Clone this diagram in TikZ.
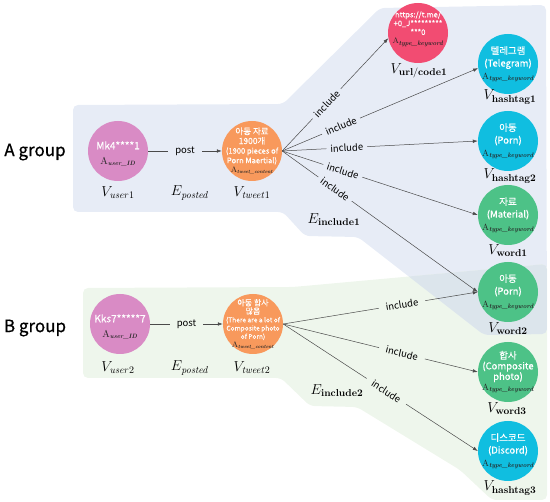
\documentclass[tikz,border=0pt]{standalone}
\usepackage[no-math]{fontspec}
\newfontfamily\kr{Noto Sans CJK KR}
\newfontfamily\krm[FakeBold=0.3]{Noto Sans CJK KR}
\newfontfamily\krb[FakeBold=0.7]{Noto Sans CJK KR}
\usetikzlibrary{arrows.meta}
\definecolor{bgA}{HTML}{E7ECF6}
\definecolor{bgB}{HTML}{EEF6EC}
\definecolor{bgAB}{HTML}{DCE5EC}
\definecolor{cUser}{HTML}{D98BC5}
\definecolor{cTweet}{HTML}{F8995C}
\definecolor{cUrl}{HTML}{F24C72}
\definecolor{cHash}{HTML}{10BEE0}
\definecolor{cWord}{HTML}{4DC287}
\definecolor{cLine}{HTML}{4A4A4A}
\newcommand{\attr}[2][6.4]{{\color{black!85}$\mathrm{A}_{\mbox{\fontsize{#1}{#1}\selectfont\rmfamily\bfseries\itshape #2}}$}}
\newcommand{\bluepath}{(73,105) -- (283,104) -- (380,8) -- (546,5) -- (547,334) -- (484,335) -- (358,237) -- (305,236) -- (283,212) -- (73,212) -- cycle}
\newcommand{\greenpath}{(83,288) -- (293,287) -- (547,264) -- (547,500) -- (492,500) -- (460,470) -- (357,407) -- (310,406) -- (281,378) -- (83,378) -- cycle}
\begin{document}
\begin{tikzpicture}[x=1pt,y=-1pt,
  circ/.style={circle, minimum size=60pt, inner sep=0pt},
  ctext/.style={align=center, text=white, inner sep=0pt, font=\krm\fontsize{8}{10}\selectfont},
  edge/.style={draw=cLine, line width=0.5pt, -{Latex[length=5pt,width=3.5pt]}},
  lbl/.style={font=\kr\fontsize{9.5}{10}\selectfont, text=black, inner xsep=4pt, inner ysep=0pt},
  vlab/.style={font=\fontsize{14.5}{16}\selectfont, inner sep=0pt},
  grp/.style={font=\krb\fontsize{17}{20}\selectfont, inner sep=0pt}]
\useasboundingbox (0,0) rectangle (550,502);
% backgrounds
\fill[bgA, rounded corners=5pt] \bluepath;
\fill[bgB, rounded corners=5pt] \greenpath;
\begin{scope}
  \clip[rounded corners=5pt] \greenpath;
  \fill[bgAB, rounded corners=5pt] \bluepath;
\end{scope}
% group labels
\node[grp] (ga) at (35,152) {A group};
\node[grp] (gb) at (35,328) {B group};
% circles
\node[circ, fill=cUser]  (u1)  at (118,151) {};
\node[circ, fill=cTweet] (t1)  at (252,151) {};
\node[circ, fill=cUrl]   (url) at (418,33) {};
\node[circ, fill=cHash]  (h1)  at (508,64) {};
\node[circ, fill=cHash]  (h2)  at (508,141) {};
\node[circ, fill=cWord]  (w1)  at (508,215) {};
\node[circ, fill=cWord]  (w2)  at (508,292) {};
\node[circ, fill=cWord]  (w3)  at (508,372) {};
\node[circ, fill=cHash]  (h3)  at (508,451) {};
\node[circ, fill=cUser]  (u2)  at (120,324) {};
\node[circ, fill=cTweet] (t2)  at (253,324) {};
% circle texts
\node[ctext, font=\krm\fontsize{10}{15}\selectfont] (tu1) at ([yshift=-3pt]u1.center) {Mk4****1\\\attr[6.2]{user\_ID}};
\node[ctext, font=\krm\fontsize{10}{15}\selectfont] (tu2) at ([yshift=-3pt]u2.center) {Kks7*****7\\\attr[6.2]{user\_ID}};
\node[ctext, font=\krm\fontsize{8.5}{9.6}\selectfont] (tt1) at (t1.center) {아동 자료\\1900개\\{\fontsize{7.6}{9.6}\selectfont(1900 pieces of}\\{\fontsize{7.6}{9.6}\selectfont Porn Maertial)}\\\attr[5]{tweet\_content}};
\node[ctext, font=\krm\fontsize{8}{8.3}\selectfont] (tt2) at (t2.center) {아동 합사\\많음\\{\fontsize{6.6}{8}\selectfont(There are a lot of}\\{\fontsize{6.6}{8}\selectfont Composite photo}\\{\fontsize{6.6}{8}\selectfont of Porn)}\\\attr[5]{tweet\_content}};
\node[ctext, font=\krm\fontsize{7.6}{8.8}\selectfont] (turl) at ([yshift=4pt]url.center) {https://t.me/\\+0\_J*********\\***0\\\attr{type\_keyword}};
\node[ctext, font=\krm\fontsize{9.5}{12.5}\selectfont] (th1) at (h1.center) {텔레그램\\(Telegram)\\\attr{type\_keyword}};
\node[ctext, font=\krm\fontsize{9.5}{12.5}\selectfont] (th2) at (h2.center) {아동\\(Porn)\\\attr{type\_keyword}};
\node[ctext, font=\krm\fontsize{9.5}{12.5}\selectfont] (tw1) at (w1.center) {자료\\(Material)\\\attr{type\_keyword}};
\node[ctext, font=\krm\fontsize{9.5}{12.5}\selectfont] (tw2) at (w2.center) {아동\\(Porn)\\\attr{type\_keyword}};
\node[ctext, font=\krm\fontsize{9.5}{10.5}\selectfont] (tw3) at (w3.center) {합사\\(Composite\\photo)\\\attr{type\_keyword}};
\node[ctext, font=\krm\fontsize{9.5}{12.5}\selectfont] (th3) at (h3.center) {디스코드\\(Discord)\\\attr{type\_keyword}};
% V / E labels
\node[vlab] (lu1) at (118,193) {$V_{\mathit{user}1}$};
\node[vlab] (le1) at (190,193) {$E_{\mathit{posted}}$};
\node[vlab] (lt1) at (252,193) {$V_{\mathit{tweet}1}$};
\node[vlab] (lu2) at (118,368) {$V_{\mathit{user}2}$};
\node[vlab] (le2) at (190,368) {$E_{\mathit{posted}}$};
\node[vlab] (lt2) at (252,368) {$V_{\mathit{tweet}2}$};
\node[vlab] (lurl) at (419,71) {$V_{\mathbf{url/code1}}$};
\node[vlab] (lh1) at (510,97) {$V_{\mathbf{hashtag1}}$};
\node[vlab] (lh2) at (510,176) {$V_{\mathbf{hashtag2}}$};
\node[vlab] (lw1) at (508,251) {$V_{\mathbf{word1}}$};
\node[vlab] (lw2) at (508,329) {$V_{\mathbf{word2}}$};
\node[vlab] (lw3) at (507,409) {$V_{\mathbf{word3}}$};
\node[vlab] (lh3) at (510,488) {$V_{\mathbf{hashtag3}}$};
\node[vlab] (li1) at (334,220) {$E_{\mathbf{include1}}$};
\node[vlab] (li2) at (337,391) {$E_{\mathbf{include2}}$};
% connectors
\draw[edge] (u1) -- node[lbl, fill=bgA, inner xsep=7pt] {post} (t1);
\draw[edge] (u2) -- node[lbl, fill=bgB, inner xsep=7pt] {post} (t2);
\draw[edge] (t1.east) -- node[lbl, fill=bgA, sloped, pos=.42] {include} (url.190);
\draw[edge] (t1.east) -- node[lbl, fill=bgA, sloped, pos=.30] {include} (h1.188);
\draw[edge] (t1.east) -- node[lbl, fill=bgA, sloped, pos=.33] {include} (h2.west);
\draw[edge] (t1.east) -- node[lbl, fill=bgA, sloped, pos=.31] {include} (w1.west);
\draw[edge] (t1.east) -- node[lbl, fill=bgA, sloped, pos=.27] {include} (w2.west);
\draw[edge] (t2.east) -- node[lbl, fill=bgB, sloped, pos=.61, inner xsep=7pt] {include} (w2.west);
\draw[edge] (t2.east) -- node[lbl, fill=bgB, sloped, pos=.61, inner xsep=7pt] {include} (w3.west);
\draw[edge] (t2.east) -- node[lbl, fill=bgB, sloped, pos=.53, inner xsep=7pt] {include} (h3.west);
\end{tikzpicture}
\end{document}
